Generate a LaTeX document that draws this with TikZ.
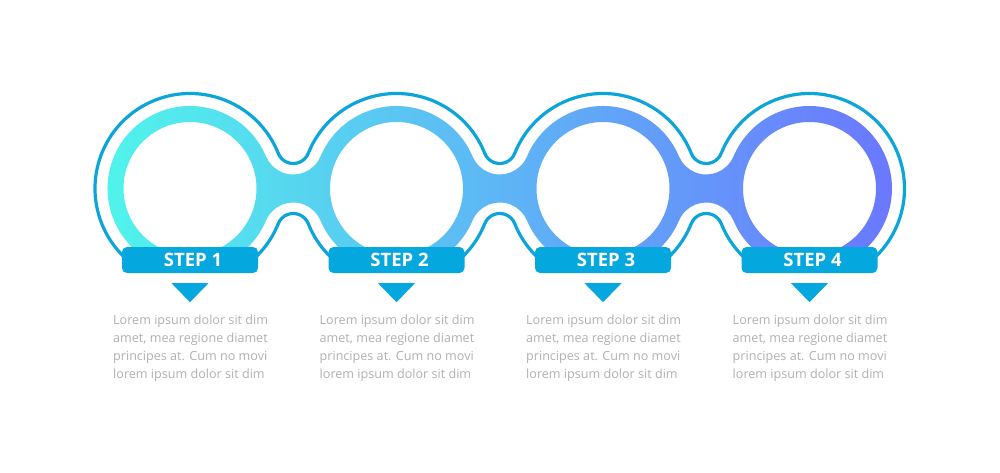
\documentclass[tikz,border=0pt]{standalone}
\usepackage{fontspec}
\setmainfont{Open Sans}
\definecolor{outl}{RGB}{12,165,218}
\definecolor{boxc}{RGB}{5,168,222}
\definecolor{gA}{RGB}{80,245,235}
\definecolor{gB}{RGB}{92,195,247}
\definecolor{gC}{RGB}{107,118,255}
\definecolor{lorem}{RGB}{176,176,176}
\newcommand\chainpath[3]{%
 (190,283.5) ++(#2:#1)
 arc[start angle=#2, end angle=360-#2, radius=#1]
 arc[start angle=180-#2, end angle=#2, radius=#3]
 arc[start angle=180+#2, end angle=360-#2, radius=#1]
 arc[start angle=180-#2, end angle=#2, radius=#3]
 arc[start angle=180+#2, end angle=360-#2, radius=#1]
 arc[start angle=180-#2, end angle=#2, radius=#3]
 arc[start angle=180+#2, end angle=540-#2, radius=#1]
 arc[start angle=-#2, end angle=#2-180, radius=#3]
 arc[start angle=#2, end angle=180-#2, radius=#1]
 arc[start angle=-#2, end angle=#2-180, radius=#3]
 arc[start angle=#2, end angle=180-#2, radius=#1]
 arc[start angle=-#2, end angle=#2-180, radius=#3]
 -- cycle}
\tikzset{
 stepbox/.style={fill=boxc, rounded corners=5pt, minimum width=136pt, minimum height=26pt,
   inner sep=0pt, text=white, font=\bfseries\fontsize{18.5}{18.5}\selectfont},
 desc/.style={anchor=north west, align=left, inner sep=0pt, text=lorem,
   font=\fontsize{12.6}{18}\selectfont},
 pointer/.style={fill=boxc}
}
\begin{document}
\begin{tikzpicture}[x=1pt,y=1pt]
\useasboundingbox (0,0) rectangle (1000,472);
% outline
\begin{scope}
\clip (0,216) rectangle (1000,472);
\draw[outl, line width=3.2pt] \chainpath{95}{21.726}{16.147};
\end{scope}
% gradient ring chain
\path[even odd rule, left color=gA, middle color=gB, right color=gC]
 \chainpath{82.5}{22.877}{29.564}
 (190,283.5) circle[radius=66.5]
 (396.5,283.5) circle[radius=66.5]
 (603,283.5) circle[radius=66.5]
 (809.5,283.5) circle[radius=66.5];
% step labels
\node[stepbox] (s1) at (190,212) {\hspace*{6pt}STEP 1};
\node[stepbox] (s2) at (396.5,212) {\hspace*{6pt}STEP 2};
\node[stepbox] (s3) at (603,212) {\hspace*{6pt}STEP 3};
\node[stepbox] (s4) at (809.5,212) {\hspace*{6pt}STEP 4};
\foreach \s in {s1,s2,s3,s4}{
 \fill[pointer] ([shift={(-18.5,-10)}]\s.south) -- ([shift={(18.5,-10)}]\s.south)
   -- ([shift={(0,-29)}]\s.south) -- cycle;
}
% descriptions
\node[desc] (t1) at (113,157) {Lorem ipsum dolor sit dim\\amet, mea regione diamet\\principes at. Cum no movi\\lorem ipsum dolor sit dim};
\node[desc] (t2) at (319.5,157) {Lorem ipsum dolor sit dim\\amet, mea regione diamet\\principes at. Cum no movi\\lorem ipsum dolor sit dim};
\node[desc] (t3) at (526,157) {Lorem ipsum dolor sit dim\\amet, mea regione diamet\\principes at. Cum no movi\\lorem ipsum dolor sit dim};
\node[desc] (t4) at (732.5,157) {Lorem ipsum dolor sit dim\\amet, mea regione diamet\\principes at. Cum no movi\\lorem ipsum dolor sit dim};
\end{tikzpicture}
\end{document}
